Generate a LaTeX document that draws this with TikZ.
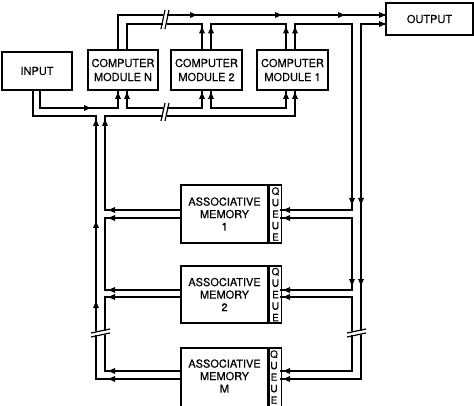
\documentclass[tikz,border=0pt]{standalone}
\usepackage{fontspec}
\setmainfont[FakeBold=0.4]{TeX Gyre Heros}
\usetikzlibrary{arrows.meta}
\begin{document}
\begin{tikzpicture}[x=1pt,y=-1pt,
  box/.style={draw, line width=1.5pt, rectangle, inner sep=0pt, align=center,
    font=\fontsize{11}{14}\selectfont},
  membox/.style={box, minimum width=87pt, font=\fontsize{11}{12.5}\selectfont},
  qbox/.style={box, minimum width=12pt, font=\fontsize{10}{11.5}\selectfont},
  txt/.style={inner sep=0pt, align=center},
  bus/.style={line width=1.5pt},
  tip/.style={-{Triangle[length=7pt,width=5.5pt]}, line width=1.5pt},
  brk/.style={line width=1.2pt}]
\clip (0,0) rectangle (474,406);
\useasboundingbox (0,0) rectangle (474,406);

% boxes
\node[box, minimum width=70pt, minimum height=38pt] (in) at (37,71) {INPUT};
\node[box, minimum width=70pt, minimum height=40pt] (mN) at (123,70) {COMPUTER\\MODULE N};
\node[box, minimum width=71pt, minimum height=40pt] (m2) at (206.5,70) {COMPUTER\\MODULE 2};
\node[box, minimum width=71pt, minimum height=40pt] (m1) at (292.5,70) {COMPUTER\\MODULE 1};
\node[box, minimum width=87pt, minimum height=32pt] (out) at (429.5,19) {OUTPUT};

\node[membox, minimum height=58pt] (am1) at (224.5,214) {ASSOCIATIVE\\MEMORY\\1};
\node[qbox, minimum height=58pt, anchor=west] (q1) at (am1.east) {Q\\U\\E\\U\\E};
\node[membox, minimum height=57pt] (am2) at (224.5,294.5) {ASSOCIATIVE\\MEMORY\\2};
\node[qbox, minimum height=57pt, anchor=west] (q2) at (am2.east) {Q\\U\\E\\U\\E};
\node[membox, minimum height=64pt] (amM) at (224.5,380) {};
\node[qbox, minimum height=64pt, anchor=west] (qM) at (amM.east) {};
\node[txt, font=\fontsize{11}{12.5}\selectfont] (amMt) at (224.5,376) {ASSOCIATIVE\\MEMORY\\M};
\node[txt, font=\fontsize{10}{11.5}\selectfont] (qMt) at (274,377) {Q\\U\\E\\U\\E};

% top bus
\draw[bus] (118,50) -- (118,15) -- (386,15);
\draw[bus] (127,50) -- (127,24) -- (202,24) -- (202,50);
\draw[bus] (211,50) -- (211,24) -- (286,24) -- (286,50);
\draw[bus] (295,50) -- (295,24) -- (352,24) -- (352,210) -- (280,210);
\draw[bus] (280,218) -- (352,218) -- (352,290) -- (280,290);
\draw[bus] (280,297) -- (352,297) -- (352,371) -- (280,371);
\draw[bus] (386,24) -- (361,24) -- (361,379) -- (280,379);

% bottom bus
\draw[bus] (40,90) -- (40,108) -- (118,108) -- (118,90);
\draw[bus] (127,90) -- (127,108) -- (202,108) -- (202,90);
\draw[bus] (211,90) -- (211,108) -- (286,108) -- (286,90);
\draw[bus] (33,90) -- (33,116) -- (96,116) -- (96,379) -- (181,379);
\draw[bus] (295,90) -- (295,116) -- (105,116) -- (105,210) -- (181,210);
\draw[bus] (181,218) -- (105,218) -- (105,290) -- (181,290);
\draw[bus] (181,297) -- (105,297) -- (105,371) -- (181,371);

% break marks
\fill[white] (163,11) rectangle (167,28);
\draw[brk] (161,29) -- (165,10);
\draw[brk] (165,29) -- (169,10);
\fill[white] (163,104) rectangle (167,120);
\draw[brk] (161,121) -- (165,103);
\draw[brk] (165,121) -- (169,103);
\fill[white] (92,331) rectangle (109,335);
\draw[brk] (91,333) -- (110,329);
\draw[brk] (91,337) -- (110,333);
\fill[white] (348,331) rectangle (365,335);
\draw[brk] (347,333) -- (366,329);
\draw[brk] (347,337) -- (366,333);

% arrows top bus
\draw[tip] (190,15) -- (197,15);
\draw[tip] (275,15) -- (282,15);
\draw[tip] (338,15) -- (345,15);
\draw[tip] (378,15) -- (386,15);
\draw[tip] (378,24) -- (386,24);
\foreach \x in {202,211,286,295} { \draw[tip] (\x,35) -- (\x,26.5); }
% arrows into modules from below
\foreach \x in {118,127,202,211,286,295} { \draw[tip] (\x,100) -- (\x,92); }
\draw[tip] (83,108) -- (91,108);
% left bus
\draw[tip] (96,128) -- (96,119);
\draw[tip] (105,128) -- (105,119);
\draw[tip] (96,230) -- (96,221);
\draw[tip] (96,310) -- (96,301);
\foreach \y in {210,218,290,297,371,379} { \draw[tip] (117,\y) -- (108,\y); }
% right bus
\foreach \x in {352,361} { \draw[tip] (\x,196) -- (\x,205); \draw[tip] (\x,277) -- (\x,286); }
\foreach \y in {210,218,290,297,371,379} { \draw[tip] (292,\y) -- (283,\y); }
\end{tikzpicture}
\end{document}
